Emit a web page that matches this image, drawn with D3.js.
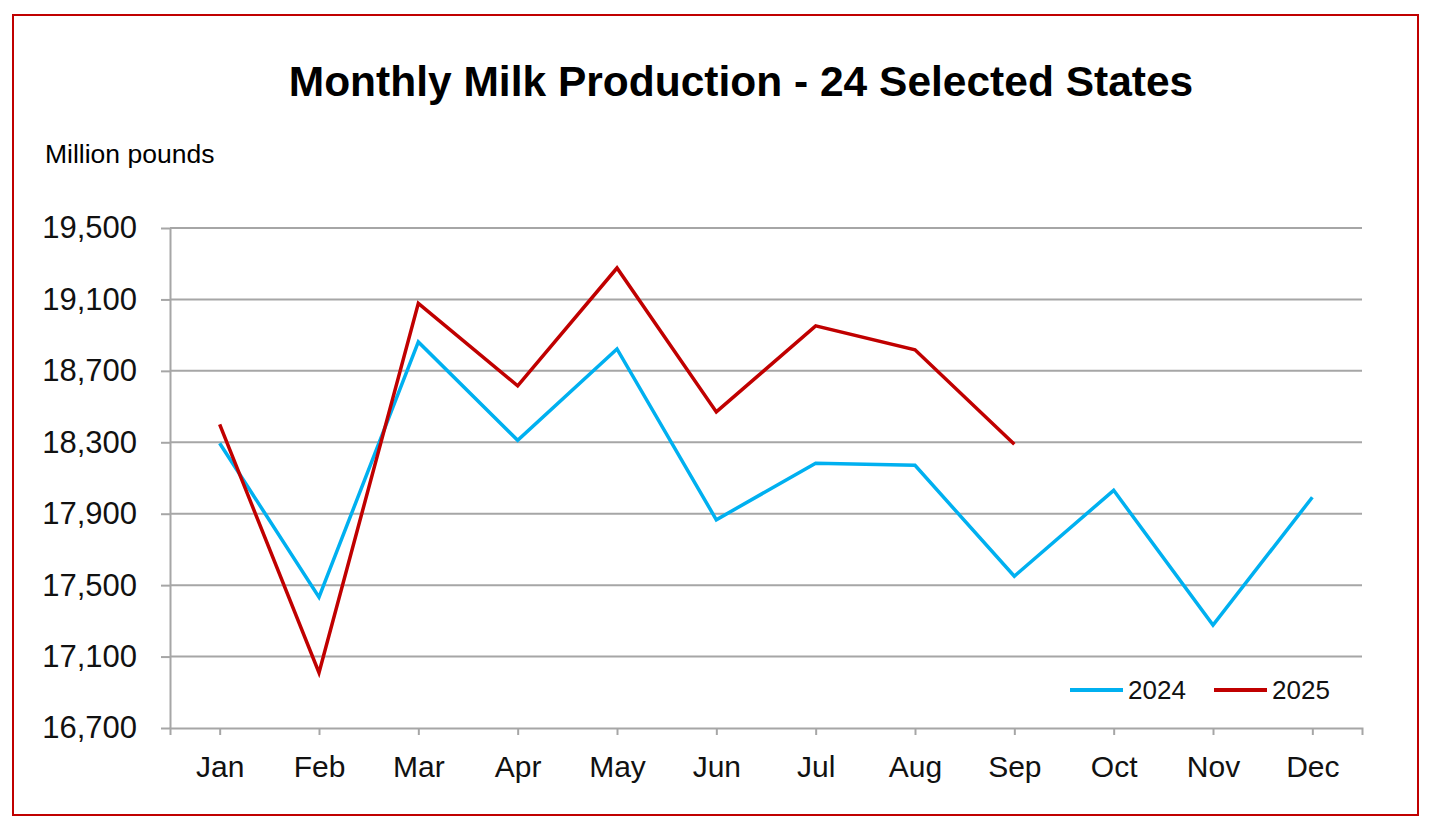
<!DOCTYPE html>
<html>
<head>
<meta charset="utf-8">
<script src="https://cdn.jsdelivr.net/npm/d3@7"></script>
<style>
  html, body { margin: 0; padding: 0; background: #fff; }
  svg { display: block; font-family: "Liberation Sans", Arial, sans-serif; }
</style>
</head>
<body>
<svg id="chart" width="1430" height="834"></svg>
<script>
const months = ["Jan", "Feb", "Mar", "Apr", "May", "Jun", "Jul", "Aug", "Sep", "Oct", "Nov", "Dec"];
const values2024 = [18295, 17433, 18862, 18311, 18823, 17866, 18183, 18171, 17550, 18031, 17276, 17992];
const values2025 = [18400, 17010, 19078, 18616, 19276, 18470, 18952, 18818, 18289];
const yTicks = [16700, 17100, 17500, 17900, 18300, 18700, 19100, 19500];
const seriesNames = ["2024", "2025"];
const seriesColors = ["#00b0f0", "#c00000"];

const svg = d3.select("#chart");

// red frame
svg.append("rect")
  .attr("x", 13).attr("y", 15)
  .attr("width", 1405).attr("height", 800)
  .attr("fill", "none").attr("stroke", "#c00000").attr("stroke-width", 2);

const plot = { left: 170, right: 1362, top: 228, bottom: 728 };

const x = d3.scalePoint().domain(months).range([plot.left, plot.right]).padding(0.5);
const y = d3.scaleLinear().domain([16700, 19500]).range([plot.bottom, plot.top]);

// gridlines
svg.append("g")
  .selectAll("line")
  .data(yTicks.slice(1))
  .enter()
  .append("line")
  .attr("x1", plot.left).attr("x2", plot.right)
  .attr("y1", (d) => y(d)).attr("y2", (d) => y(d))
  .attr("stroke", "#a6a6a6").attr("stroke-width", 2);

// y axis
const yAxis = svg.append("g")
  .attr("transform", "translate(" + plot.left + ",0)")
  .call(d3.axisLeft(y).tickValues(yTicks).tickSize(9).tickSizeOuter(0).tickPadding(24).tickFormat(d3.format(",")));
yAxis.select(".domain").attr("stroke", "#a6a6a6").attr("stroke-width", 2);
yAxis.selectAll(".tick line").attr("stroke", "#a6a6a6").attr("stroke-width", 2);
yAxis.selectAll("text")
  .style("font-size", "31px")
  .style("font-family", "'Liberation Sans', Arial, sans-serif")
  .attr("fill", "#111");

// x axis
const xAxis = svg.append("g")
  .attr("transform", "translate(0," + plot.bottom + ")")
  .call(d3.axisBottom(x).tickSize(7).tickSizeOuter(7).tickPadding(21));
xAxis.select(".domain").attr("stroke", "#a6a6a6").attr("stroke-width", 2);
xAxis.selectAll(".tick line").attr("stroke", "#a6a6a6").attr("stroke-width", 2);
xAxis.selectAll("text")
  .style("font-size", "30px")
  .style("font-family", "'Liberation Sans', Arial, sans-serif")
  .attr("fill", "#111");

const line = d3.line()
  .x((d, i) => x(months[i]))
  .y((d) => y(d));

[values2024, values2025].forEach((vals, i) => {
  svg.append("path")
    .datum(vals)
    .attr("fill", "none")
    .attr("stroke", seriesColors[i])
    .attr("stroke-width", 3.5)
    .attr("stroke-linejoin", "miter")
    .attr("d", line);
});

// title and unit label
svg.append("text")
  .attr("x", 741).attr("y", 96)
  .attr("text-anchor", "middle")
  .style("font-size", "42.5px")
  .style("font-weight", "bold")
  .text("Monthly Milk Production - 24 Selected States");

svg.append("text")
  .attr("x", 45).attr("y", 163)
  .style("font-size", "26.5px")
  .text("Million pounds");

// legend
const legend = svg.append("g").attr("transform", "translate(1070,690)");
const legendEntries = legend.selectAll(".legendEntry")
  .data(seriesNames)
  .enter()
  .append("g")
  .attr("class", "legendEntry")
  .attr("transform", (d, i) => "translate(" + i * 144 + ",0)");

legendEntries.append("line")
  .attr("x1", 0).attr("x2", 53)
  .attr("y1", 0).attr("y2", 0)
  .attr("stroke", (d, i) => seriesColors[i])
  .attr("stroke-width", 4);

legendEntries.append("text")
  .attr("x", 58).attr("y", 0)
  .attr("dy", ".36em")
  .style("font-size", "26px")
  .attr("fill", "#111")
  .text((d) => d);
</script>
</body>
</html>
